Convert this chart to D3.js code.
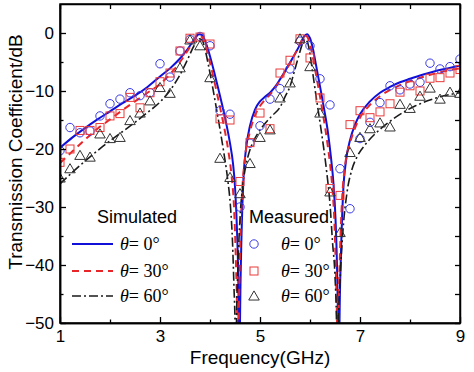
<!DOCTYPE html>
<html>
<head>
<meta charset="utf-8">
<script src="https://cdnjs.cloudflare.com/ajax/libs/d3/7.8.5/d3.min.js"></script>
<style>
  body { margin: 0; background: #fff; }
  svg text { font-family: Arial, "Liberation Sans", sans-serif; }
</style>
</head>
<body>
<div class="chart"></div>
<script>
// simulated curves (GHz, dB)
var sim0F = [1.0,1.25,1.5,1.75,2.0,2.25,2.5,2.75,3.0,3.2,3.4,3.55,3.68,3.78,3.85,3.92,4.0,4.08,4.16,4.24,4.32,4.4,4.46,4.5,4.54,4.57,4.585,4.6,4.63,4.67,4.72,4.8,4.9,5.0,5.1,5.2,5.3,5.4,5.5,5.6,5.7,5.8,5.88,5.94,6.0,6.06,6.12,6.2,6.28,6.36,6.42,6.47,6.51,6.54,6.56,6.575,6.59,6.62,6.66,6.72,6.8,6.9,7.0,7.2,7.4,7.6,7.8,8.0,8.25,8.5,8.75,9.0];
var sim0 = [-19.8,-18.0,-16.4,-14.9,-13.5,-12.1,-10.8,-9.3,-7.5,-6.1,-4.4,-2.8,-1.2,-0.2,-0.4,-1.8,-4.0,-6.6,-9.4,-12.3,-15.4,-19.0,-22.5,-26.5,-34,-45,-65,-50,-35,-25,-20,-16,-13.2,-11.8,-11.0,-10.3,-9.3,-8.0,-6.6,-5.1,-3.6,-2.0,-0.6,-0.2,-0.9,-2.8,-5.5,-9.2,-13,-17.2,-21.5,-26,-32,-40,-50,-65,-50,-38,-28,-22,-18.5,-15.8,-14,-11.8,-10.3,-9.3,-8.5,-7.9,-7.2,-6.6,-6.1,-5.6];

var sim30F = [1.0,1.25,1.5,1.75,2.0,2.25,2.5,2.75,3.0,3.2,3.4,3.55,3.68,3.77,3.84,3.91,3.98,4.06,4.14,4.22,4.3,4.37,4.43,4.48,4.52,4.545,4.56,4.575,4.6,4.64,4.7,4.8,4.9,5.0,5.1,5.2,5.3,5.4,5.5,5.6,5.7,5.8,5.87,5.92,5.98,6.04,6.1,6.18,6.26,6.34,6.4,6.45,6.49,6.52,6.54,6.555,6.57,6.6,6.64,6.7,6.8,6.9,7.0,7.2,7.4,7.6,7.8,8.0,8.25,8.5,8.75,9.0];
var sim30 = [-22.4,-20.4,-18.4,-16.5,-14.9,-13.3,-11.8,-10.3,-8.8,-7.1,-5.0,-3.1,-1.4,-0.5,-0.7,-2.2,-4.4,-7.3,-10.4,-13.6,-17,-20.5,-24.5,-30,-40,-50,-65,-50,-38,-28,-21.5,-17,-14.2,-12.6,-11.5,-10.6,-9.5,-8.2,-6.7,-5.2,-3.6,-1.9,-0.8,-0.5,-1.3,-3.4,-6.2,-10,-14,-18.5,-22.5,-27,-33,-42,-50,-65,-50,-38,-29,-23,-19,-16.4,-14.6,-12.4,-10.9,-9.8,-9.0,-8.3,-7.6,-7.0,-6.5,-6.1];

var sim60F = [1.0,1.25,1.5,1.75,2.0,2.25,2.5,2.75,3.0,3.2,3.4,3.55,3.68,3.78,3.84,3.9,3.97,4.05,4.12,4.2,4.28,4.35,4.41,4.45,4.48,4.5,4.515,4.53,4.56,4.6,4.66,4.74,4.84,4.95,5.1,5.25,5.4,5.5,5.6,5.7,5.78,5.85,5.9,5.95,6.0,6.06,6.13,6.2,6.27,6.34,6.4,6.45,6.5,6.53,6.55,6.57,6.6,6.66,6.74,6.84,6.95,7.1,7.3,7.5,7.7,7.9,8.1,8.35,8.6,8.8,9.0];
var sim60 = [-26,-24,-22.1,-20.3,-18.6,-17,-15.4,-13.7,-11.9,-9.9,-7.2,-4.6,-2.2,-1.0,-1.2,-2.8,-5.6,-9.2,-12.6,-16.6,-20.8,-25,-30,-36,-44,-50,-65,-50,-40,-32,-26,-22,-19.2,-17.4,-15.6,-14.2,-12.8,-11.0,-9.2,-6.2,-3.8,-1.8,-1.1,-1.6,-3.6,-7.2,-11.4,-15.4,-19.6,-24.4,-29.5,-36,-42,-50,-65,-50,-43,-34,-27.5,-23.5,-21.2,-19.3,-17.4,-15.9,-14.6,-13.5,-12.6,-11.7,-11.0,-10.6,-10.3];

// measured points, every 0.2 GHz from 1 to 9
var measF = [1.0,1.2,1.4,1.6,1.8,2.0,2.2,2.4,2.6,2.8,3.0,3.2,3.4,3.6,3.8,4.0,4.2,4.4,4.6,4.8,5.0,5.2,5.4,5.6,5.8,6.0,6.2,6.4,6.6,6.8,7.0,7.2,7.4,7.6,7.8,8.0,8.2,8.4,8.6,8.8,9.0];
var meas0 = [-20.3,-16.3,-17.2,-16.9,-14.3,-12.2,-11.4,-10.3,-10.8,-10.3,-5.3,-7.6,-3.1,-1.1,-0.6,-2.2,-13.4,-14.0,-30.0,-19.0,-16.0,-11.4,-9.6,-6.2,-1.4,-2.2,-7.9,-12.4,-23.4,-30.3,-18.2,-15.4,-12.0,-9.1,-9.8,-8.8,-8.5,-5.2,-6.2,-5.8,-4.5];
var meas30 = [-22.3,-20.0,-16.8,-16.8,-16.3,-14.3,-13.9,-11.1,-12.9,-10.3,-8.4,-6.9,-3.1,-0.9,-0.7,-1.9,-14.8,-15.0,-25.6,-18.9,-13.8,-16.5,-6.9,-4.7,-1.0,-4.3,-11.2,-26.8,-28.0,-15.8,-13.4,-14.6,-13.6,-12.2,-10.2,-9.1,-10.0,-7.8,-7.7,-6.9,-6.3];
var meas60 = [-25.0,-23.4,-21.1,-21.4,-17.4,-18.2,-18.0,-15.1,-13.8,-11.7,-9.4,-10.4,-6.0,-1.2,-2.2,-7.7,-21.6,-24.9,-27.7,-22.5,-18.0,-16.7,-11.2,-8.6,-1.0,-5.8,-13.8,-27.4,-34.4,-20.6,-18.0,-16.5,-15.5,-16.2,-12.3,-13.0,-10.9,-9.5,-11.4,-10.2,-10.4];

var xTicks = [1, 3, 5, 7, 9],
  xMinor = [2, 4, 6, 8],
  yTicks = [0, -10, -20, -30, -40, -50],
  yMinor = [-5, -15, -25, -35, -45],
  angles = ['0°', '30°', '60°'];

var width = 474,
  height = 372,
  margin = {
    top: 4,
    left: 60,
    right: 14,
    bottom: 49
  },
  blue = '#1010d8',
  red = '#e8262a',
  dark = '#1a1a1a';

var w = width - margin.left - margin.right,
  h = height - margin.top - margin.bottom;

var svg = d3.select('.chart')
  .append('svg')
  .attr('width', width)
  .attr('height', height);

var g = svg.append('g')
  .attr('transform', 'translate(' + margin.left + ',' + margin.top + ')');

var x = d3.scaleLinear().domain([1, 9]).range([0, w]);
var y = d3.scaleLinear().domain([-50, 5]).range([h, 0]);

g.append('clipPath')
  .attr('id', 'plotclip')
  .append('rect')
  .attr('width', w)
  .attr('height', h);

var line = d3.line()
  .x(d => x(d[0]))
  .y(d => y(d[1]))
  .curve(d3.curveMonotoneX);

function zip(a, b) {
  return a.map((v, i) => [v, b[i]]);
}

var sims = [
  { f: sim0F, v: sim0, color: blue, width: 2, dash: null },
  { f: sim30F, v: sim30, color: red, width: 2, dash: '7,5' },
  { f: sim60F, v: sim60, color: dark, width: 1.6, dash: '9,3,2,3' }
];

var plot = g.append('g').attr('clip-path', 'url(#plotclip)');

plot.selectAll('path.sim')
  .data(sims)
  .enter()
  .append('path')
  .attr('class', 'sim')
  .attr('d', d => line(zip(d.f, d.v)))
  .attr('fill', 'none')
  .attr('stroke', d => d.color)
  .attr('stroke-width', d => d.width)
  .attr('stroke-dasharray', d => d.dash);

var circleColor = '#3a3ae6',
  squareColor = '#ea3a3a',
  triColor = '#333';

var tri = d3.symbol().type(d3.symbolTriangle).size(48);

plot.selectAll('circle.m0')
  .data(zip(measF, meas0))
  .enter()
  .append('circle')
  .attr('cx', d => x(d[0]))
  .attr('cy', d => y(d[1]))
  .attr('r', 4.2)
  .attr('fill', 'none')
  .attr('stroke', circleColor)
  .attr('stroke-width', 1);

plot.selectAll('rect.m30')
  .data(zip(measF, meas30))
  .enter()
  .append('rect')
  .attr('x', d => x(d[0]) - 4)
  .attr('y', d => y(d[1]) - 4)
  .attr('width', 8)
  .attr('height', 8)
  .attr('fill', 'none')
  .attr('stroke', squareColor)
  .attr('stroke-width', 1);

plot.selectAll('path.m60')
  .data(zip(measF, meas60))
  .enter()
  .append('path')
  .attr('d', tri)
  .attr('transform', d => 'translate(' + x(d[0]) + ',' + (y(d[1]) + 1) + ')')
  .attr('fill', 'none')
  .attr('stroke', triColor)
  .attr('stroke-width', 1);

// axes, ticks pointing inward on all four sides
function styleAxis(sel) {
  sel.selectAll('path').attr('stroke', '#000').attr('stroke-width', 1.5);
  sel.selectAll('line').attr('stroke', '#000').attr('stroke-width', 1.3);
  sel.selectAll('text')
    .attr('fill', '#000')
    .style('font-size', '17px')
    .style('font-family', 'Arial, "Liberation Sans", sans-serif');
}

g.append('g')
  .attr('transform', 'translate(0,' + h + ')')
  .call(d3.axisBottom(x).tickValues(xTicks).tickSize(-6).tickSizeOuter(0).tickPadding(7).tickFormat(d3.format('d')))
  .call(styleAxis);
g.append('g')
  .attr('transform', 'translate(0,' + h + ')')
  .call(d3.axisBottom(x).tickValues(xMinor).tickSize(-3.5).tickSizeOuter(0).tickFormat(''))
  .call(styleAxis);
g.append('g')
  .call(d3.axisTop(x).tickValues(xTicks.concat(xMinor)).tickSize(-5).tickSizeOuter(0).tickFormat(''))
  .call(styleAxis);

g.append('g')
  .call(d3.axisLeft(y).tickValues(yTicks).tickSize(-6).tickSizeOuter(0).tickPadding(6).tickFormat(d3.format('d')))
  .call(styleAxis);
g.append('g')
  .call(d3.axisLeft(y).tickValues(yMinor).tickSize(-3.5).tickSizeOuter(0).tickFormat(''))
  .call(styleAxis);
g.append('g')
  .attr('transform', 'translate(' + w + ',0)')
  .call(d3.axisRight(y).tickValues(yTicks.concat(yMinor)).tickSize(-5).tickSizeOuter(0).tickFormat(''))
  .call(styleAxis);

g.append('rect')
  .attr('width', w)
  .attr('height', h)
  .attr('fill', 'none')
  .attr('stroke', '#000')
  .attr('stroke-width', 1.5);

// axis titles
svg.append('text')
  .attr('x', margin.left + w / 2)
  .attr('y', 364)
  .attr('text-anchor', 'middle')
  .style('font-size', '19px')
  .text('Frequency(GHz)');

svg.append('text')
  .attr('transform', 'translate(22,152) rotate(-90)')
  .attr('text-anchor', 'middle')
  .style('font-size', '19px')
  .text('Transmission Coefficient/dB');

// legend
var rows = [244, 271, 296];

svg.append('text')
  .attr('x', 97)
  .attr('y', 223)
  .style('font-size', '18px')
  .text('Simulated');

svg.append('text')
  .attr('x', 249)
  .attr('y', 223)
  .style('font-size', '18px')
  .text('Measured');

svg.selectAll('line.leg')
  .data(sims)
  .enter()
  .append('line')
  .attr('x1', 72)
  .attr('x2', 113)
  .attr('y1', (d, i) => rows[i])
  .attr('y2', (d, i) => rows[i])
  .attr('stroke', d => d.color)
  .attr('stroke-width', d => d.width)
  .attr('stroke-dasharray', d => d.dash);

svg.append('circle')
  .attr('cx', 254)
  .attr('cy', rows[0])
  .attr('r', 4.2)
  .attr('fill', 'none')
  .attr('stroke', circleColor);
svg.append('rect')
  .attr('x', 250)
  .attr('y', rows[1] - 4)
  .attr('width', 8)
  .attr('height', 8)
  .attr('fill', 'none')
  .attr('stroke', squareColor);
svg.append('path')
  .attr('d', tri)
  .attr('transform', 'translate(254,' + (rows[2] + 1) + ')')
  .attr('fill', 'none')
  .attr('stroke', triColor);

function thetaLabel(xPos, yPos, angle) {
  var t = svg.append('text')
    .attr('x', xPos)
    .attr('y', yPos)
    .style('font-size', '18px')
    .style('font-family', '"Liberation Serif", "Times New Roman", serif');
  t.append('tspan').style('font-style', 'italic').text('θ');
  t.append('tspan').text('= ' + angle);
}

angles.forEach(function (a, i) {
  thetaLabel(120, rows[i] + 6, a);
  thetaLabel(281, rows[i] + 6, a);
});
</script>
</body>
</html>
